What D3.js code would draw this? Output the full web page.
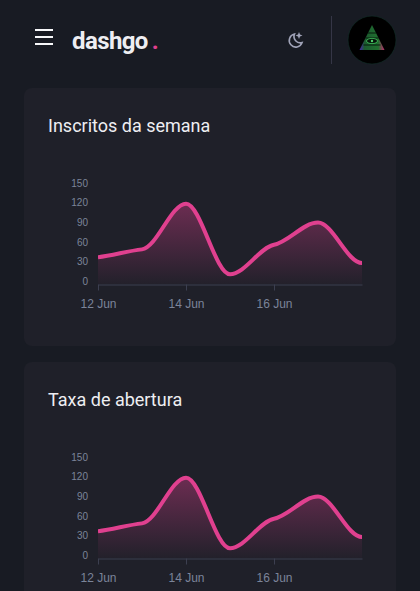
<!DOCTYPE html>
<html>
<head>
<meta charset="utf-8">
<script src="https://cdn.jsdelivr.net/npm/d3@7"></script>
<style>
  html, body { margin: 0; padding: 0; background: #181b23; overflow: hidden; }
  svg { display: block; }
</style>
</head>
<body>
<svg id="page"></svg>
<script>
const days = [12, 13, 14, 15, 16, 17, 18];
const inscritos = [41, 53, 123, 15, 60, 94, 32];
const abertura = [41, 53, 123, 15, 60, 94, 32];
const yTicks = [0, 30, 60, 90, 120, 150];
const xTicks = [12, 14, 16];
const titles = ["Inscritos da semana", "Taxa de abertura"];

const w = 420;
const h = 591;
const pink = "#e0408f";
const labelColor = "#7b8499";

const svg = d3.select("#page").attr("width", w).attr("height", h);
const defs = svg.append("defs");

// d3 curve: flat at peaks, shallow slope at shoulders, like the original's smoothing
const softCurve = (context) => {
  let pts = [];
  let inArea = false;
  let lineNo = 0;
  return {
    areaStart() { inArea = true; lineNo = 0; },
    areaEnd() { inArea = false; context.closePath(); },
    lineStart() { pts = []; },
    point(x, y) { pts.push([+x, +y]); },
    lineEnd() {
      const n = pts.length;
      const sec = d3.range(n - 1).map((i) => (pts[i + 1][1] - pts[i][1]) / (pts[i + 1][0] - pts[i][0]));
      const slope = pts.map((p, i) => {
        if (i === 0) return sec[0] * 0.6;
        if (i === n - 1) return 0;
        if (sec[i - 1] * sec[i] <= 0) return 0;
        return (2 * sec[i - 1] * sec[i]) / (sec[i - 1] + sec[i]) * 0.35;
      });
      if (inArea && lineNo > 0) context.lineTo(pts[0][0], pts[0][1]);
      else context.moveTo(pts[0][0], pts[0][1]);
      for (let i = 0; i < n - 1; i++) {
        const dx = (pts[i + 1][0] - pts[i][0]) / 3;
        context.bezierCurveTo(
          pts[i][0] + dx, pts[i][1] + slope[i] * dx,
          pts[i + 1][0] - dx, pts[i + 1][1] - slope[i + 1] * dx,
          pts[i + 1][0], pts[i + 1][1]
        );
      }
      lineNo++;
    },
  };
};

const drawHeader = () => {
  svg.append("path")
    .attr("d", "M35 30H53M35 37H53M35 44H53")
    .attr("stroke", "#f7f8fa")
    .attr("stroke-width", 2);

  const logo = svg.append("text")
    .attr("x", 72)
    .attr("y", 49)
    .style("font-family", "Roboto")
    .style("font-size", "24px")
    .style("font-weight", 700)
    .style("letter-spacing", "-0.6px")
    .attr("fill", "#eeeef2");
  logo.append("tspan").text("dashgo");
  logo.append("tspan").attr("fill", pink).attr("dx", 4).text(".");

  // moon icon
  svg.append("path")
    .attr("d", "M294.5 34a6.6 6.6 0 1 0 7.6 8.6a6.4 6.4 0 0 1 -7.6 -8.6z")
    .attr("fill", "none")
    .attr("stroke", "#a0a3b8")
    .attr("stroke-width", 1.6);
  svg.append("path")
    .attr("d", "M299 32l1 2.5 2.5 1 -2.5 1 -1 2.5 -1 -2.5 -2.5 -1 2.5 -1z")
    .attr("fill", "#a0a3b8");

  svg.append("line")
    .attr("x1", 331.5).attr("x2", 331.5)
    .attr("y1", 16).attr("y2", 64)
    .attr("stroke", "#353646");

  // avatar
  const grad = defs.append("linearGradient")
    .attr("id", "avatarGrad")
    .attr("x1", 0).attr("x2", 1).attr("y1", 0).attr("y2", 0);
  grad.append("stop").attr("offset", 0).attr("stop-color", "#4a1fb0");
  grad.append("stop").attr("offset", 0.2).attr("stop-color", "#1c5a30");
  grad.append("stop").attr("offset", 0.75).attr("stop-color", "#20702f");
  grad.append("stop").attr("offset", 1).attr("stop-color", "#c02a70");

  svg.append("circle")
    .attr("cx", 372).attr("cy", 40).attr("r", 24)
    .attr("fill", "#000")
    .attr("stroke", "#12302a")
    .attr("stroke-width", 0.6);
  svg.append("path")
    .attr("d", "M372 25L384.5 50H359.5Z")
    .attr("fill", "url(#avatarGrad)");
  svg.append("path")
    .attr("d", "M368 33H376M365.5 38H378.5M363.5 45H380.5")
    .attr("stroke", "#071a0d")
    .attr("stroke-width", 1);
  svg.append("ellipse")
    .attr("cx", 372).attr("cy", 41).attr("rx", 5.5).attr("ry", 2.6)
    .attr("fill", "#06140a")
    .attr("stroke", "#3fbf5c")
    .attr("stroke-width", 0.8);
  svg.append("circle")
    .attr("cx", 372).attr("cy", 41).attr("r", 1.2)
    .attr("fill", "#4fd06a");
};

const drawCard = (title, values, offset, index) => {
  const card = svg.append("g").attr("transform", "translate(0," + offset + ")");

  card.append("rect")
    .attr("x", 24).attr("y", 88)
    .attr("width", 372).attr("height", 258)
    .attr("rx", 8)
    .attr("fill", "#1f2029");

  card.append("text")
    .attr("x", 48).attr("y", 131.5)
    .style("font-family", "Roboto")
    .style("font-size", "18px")
    .attr("fill", "#eeeef2")
    .text(title);

  const xScale = d3.scaleLinear().domain([12, 18]).range([98, 362]);
  const yScale = d3.scaleLinear().domain([0, 150]).range([284, 186]);

  const gradId = "fill" + index;
  const grad = defs.append("linearGradient")
    .attr("id", gradId)
    .attr("gradientUnits", "userSpaceOnUse")
    .attr("x1", 0).attr("x2", 0)
    .attr("y1", yScale(123)).attr("y2", yScale(0));
  grad.append("stop").attr("offset", 0).attr("stop-color", pink).attr("stop-opacity", 0.4);
  grad.append("stop").attr("offset", 1).attr("stop-color", pink).attr("stop-opacity", 0.02);

  const area = d3.area()
    .x((d, i) => xScale(days[i]))
    .y0(yScale(0))
    .y1((d) => yScale(d))
    .curve(softCurve);
  const line = d3.line()
    .x((d, i) => xScale(days[i]))
    .y((d) => yScale(d))
    .curve(softCurve);

  card.append("path").attr("d", area(values)).attr("fill", "url(#" + gradId + ")");

  const clipId = "clip" + index;
  defs.append("clipPath").attr("id", clipId)
    .append("rect").attr("x", 98).attr("y", 150).attr("width", 264).attr("height", 140);
  card.append("path")
    .attr("d", line(values))
    .attr("fill", "none")
    .attr("stroke", pink)
    .attr("stroke-width", 4)
    .attr("clip-path", "url(#" + clipId + ")");

  const xAxis = d3.axisBottom(xScale)
    .tickValues(xTicks)
    .tickSize(6)
    .tickSizeOuter(0)
    .tickFormat((d) => d + " Jun");
  const xG = card.append("g")
    .attr("transform", "translate(0,284.5)")
    .call(xAxis);
  xG.select(".domain").attr("stroke", "#3c3f50");
  xG.selectAll("line").attr("stroke", "#3c3f50");
  xG.selectAll("text")
    .attr("y", 14.5)
    .attr("dy", "0.71em")
    .attr("fill", labelColor)
    .style("font-family", "Liberation Sans")
    .style("font-size", "12px");

  const yAxis = d3.axisLeft(yScale).tickValues(yTicks).tickSize(0);
  const yG = card.append("g")
    .attr("transform", "translate(88,-3)")
    .call(yAxis);
  yG.select(".domain").remove();
  yG.selectAll("text")
    .attr("x", 0)
    .attr("fill", labelColor)
    .style("font-family", "Liberation Sans")
    .style("font-size", "10px");
};

drawHeader();
drawCard(titles[0], inscritos, 0, 0);
drawCard(titles[1], abertura, 274, 1);
</script>
</body>
</html>
